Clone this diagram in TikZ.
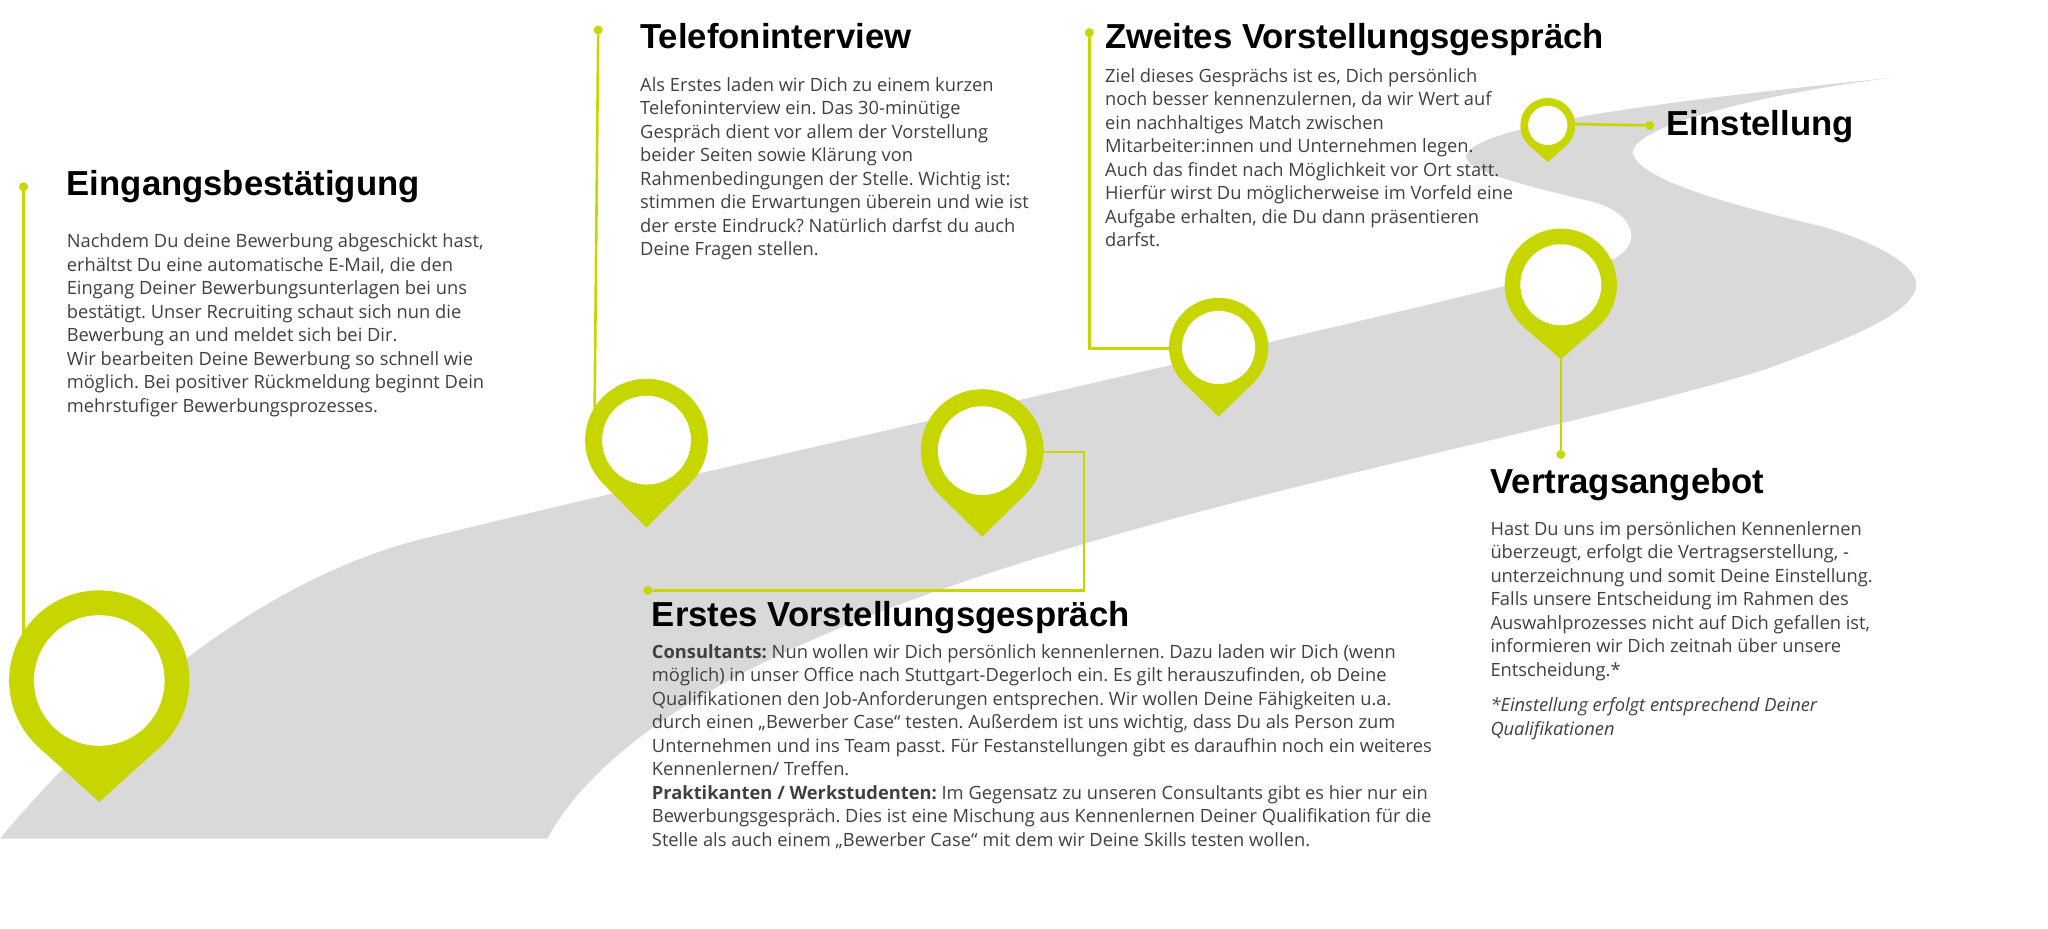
\documentclass[tikz,border=0pt]{standalone}
\usepackage{fontspec}
\setmainfont{Open Sans}
\newfontfamily\hd{Liberation Sans}
\definecolor{lime}{RGB}{200,214,0}
\definecolor{road}{RGB}{217,217,217}
\definecolor{txt}{RGB}{64,64,64}
\newcommand\pinmark[6]{%
  \pgfmathsetmacro\pa{acos(#4/#6)}%
  \pgfmathsetmacro\psx{#4*sin(\pa)}%
  \pgfmathsetmacro\psy{#4*cos(\pa)}%
  \coordinate (#1) at (#2,#3);
  \fill[lime] (#2,#3) circle[radius=#4];
  \fill[lime] ({#2-\psx},{#3+\psy}) -- (#2,{#3+#6}) -- ({#2+\psx},{#3+\psy}) -- cycle;
  \fill[white] (#2,#3) circle[radius=#5];
}
\frenchspacing
\begin{document}
\frenchspacing
\begin{tikzpicture}[x=1.30612pt,y=-1.30612pt,
  conn/.style={draw=lime,line width=2.6pt},
  dot/.style={circle,fill=lime,inner sep=0pt,minimum size=9pt},
  head/.style={anchor=west,inner sep=0pt,font=\hd\bfseries\fontsize{34.7}{40}\selectfont,text=black},
  body/.style={anchor=north west,inner sep=0pt,align=left,text=txt,font=\frenchspacing\fontsize{18.3}{23.5}\selectfont}]
\useasboundingbox (0,0) rectangle (1568,711);
% road
\fill[road] (0,642) .. controls (115,505) and (230,436) .. (322,413)
  .. controls (536,360) and (995,260) .. (1236,198)
  .. controls (1260,185) and (1250,160) .. (1213,153)
  .. controls (1160,140) and (1110,128) .. (1125,115)
  .. controls (1150,92) and (1300,75) .. (1453,59)
  .. controls (1360,70) and (1250,95) .. (1250,117)
  .. controls (1255,140) and (1340,160) .. (1397,174)
  .. controls (1450,190) and (1475,210) .. (1465,225)
  .. controls (1455,245) and (1400,265) .. (1351,283)
  .. controls (1100,360) and (530,440) .. (419,642) -- cycle;
% pins
\pinmark{p1}{76}{521}{69}{50}{93}
\pinmark{p2}{495}{337}{47}{34}{67}
\pinmark{p3}{752}{345}{47}{34}{66}
\pinmark{p4}{933}{266}{38}{28}{53}
\pinmark{p5}{1195}{218}{43}{31}{57}
\pinmark{p6}{1185}{96}{21}{15}{28}
% connectors
\node[dot] (d1) at (18,143) {};
\coordinate (e1) at (18,488);
\draw[conn] (d1) -- (e1);
\node[dot] (d2) at (458,23) {};
\coordinate (e2) at (455,340);
\draw[conn] (d2) -- (e2);
\node[dot] (d3) at (496,452) {};
\coordinate (e3) at (798,346);
\draw[conn] (e3) -- (830,346) -- (830,452) -- (d3);
\node[dot] (d4) at (834,25) {};
\coordinate (e4) at (896,267);
\draw[conn] (d4) -- (834,267) -- (e4);
\node[dot] (d5) at (1195,348) {};
\coordinate (e5) at (1195,275);
\draw[conn] (e5) -- (d5);
\node[dot] (d6) at (1263,96) {};
\coordinate (e6) at (1205,95);
\draw[conn] (e6) -- (d6);
% texts
\node[head] (h1) at (51,143) {Eingangsbestätigung};
\node[body] (b1) at (51,179) {Nachdem Du deine Bewerbung abgeschickt hast,\\
erhältst Du eine automatische E-Mail, die den\\
Eingang Deiner Bewerbungsunterlagen bei uns\\
bestätigt. Unser Recruiting schaut sich nun die\\
Bewerbung an und meldet sich bei Dir.\\
Wir bearbeiten Deine Bewerbung so schnell wie\\
möglich. Bei positiver Rückmeldung beginnt Dein\\
mehrstufiger Bewerbungsprozesses.};
\node[head] (h2) at (490,28) {Telefoninterview};
\node[body] (b2) at (490,59) {Als Erstes laden wir Dich zu einem kurzen\\
Telefoninterview ein. Das 30-minütige\\
Gespräch dient vor allem der Vorstellung\\
beider Seiten sowie Klärung von\\
Rahmenbedingungen der Stelle. Wichtig ist:\\
stimmen die Erwartungen überein und wie ist\\
der erste Eindruck? Natürlich darfst du auch\\
Deine Fragen stellen.};
\node[head] (h3) at (499,473) {Erstes Vorstellungsgespräch};
\node[body] (b3) at (499,493) {{\fontseries{sb}\selectfont Consultants:} Nun wollen wir Dich persönlich kennenlernen. Dazu laden wir Dich (wenn\\
möglich) in unser Office nach Stuttgart-Degerloch ein. Es gilt herauszufinden, ob Deine\\
Qualifikationen den Job-Anforderungen entsprechen. Wir wollen Deine Fähigkeiten u.a.\\
durch einen „Bewerber Case“ testen. Außerdem ist uns wichtig, dass Du als Person zum\\
Unternehmen und ins Team passt. Für Festanstellungen gibt es daraufhin noch ein weiteres\\
Kennenlernen/ Treffen.\\
{\fontseries{sb}\selectfont Praktikanten / Werkstudenten:} Im Gegensatz zu unseren Consultants gibt es hier nur ein\\
Bewerbungsgespräch. Dies ist eine Mischung aus Kennenlernen Deiner Qualifikation für die\\
Stelle als auch einem „Bewerber Case“ mit dem wir Deine Skills testen wollen.};
\node[head] (h4) at (846,30) {Zweites Vorstellungsgespräch};
\node[body] (b4) at (846,52) {Ziel dieses Gesprächs ist es, Dich persönlich\\
noch besser kennenzulernen, da wir Wert auf\\
ein nachhaltiges Match zwischen\\
Mitarbeiter:innen und Unternehmen legen.\\
Auch das findet nach Möglichkeit vor Ort statt.\\
Hierfür wirst Du möglicherweise im Vorfeld eine\\
Aufgabe erhalten, die Du dann präsentieren\\
darfst.};
\node[head] (h5) at (1141,371) {Vertragsangebot};
\node[body] (b5) at (1141,399) {Hast Du uns im persönlichen Kennenlernen\\
überzeugt, erfolgt die Vertragserstellung, -\\
unterzeichnung und somit Deine Einstellung.\\
Falls unsere Entscheidung im Rahmen des\\
Auswahlprozesses nicht auf Dich gefallen ist,\\
informieren wir Dich zeitnah über unsere\\
Entscheidung.*};
\node[body,font=\frenchspacing\itshape\fontsize{18.3}{23.5}\selectfont] (f5) at (1141,534) {*Einstellung erfolgt entsprechend Deiner\\
Qualifikationen};
\node[head] (h6) at (1276,97) {Einstellung};
\end{tikzpicture}
\end{document}
